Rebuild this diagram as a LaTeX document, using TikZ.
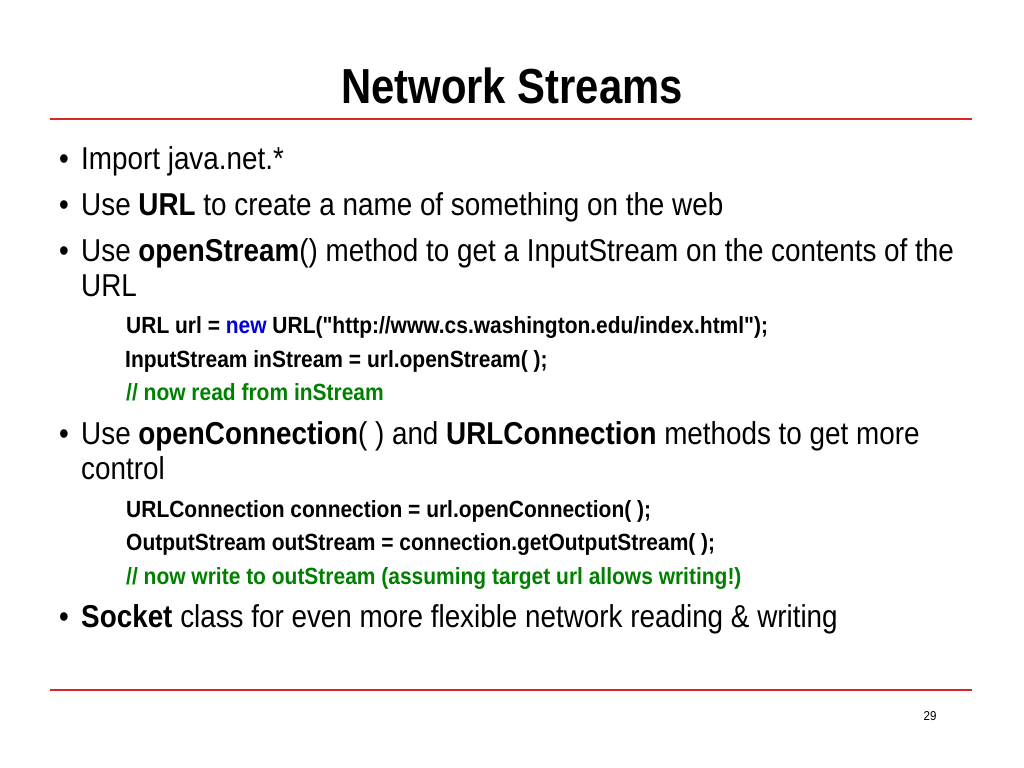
\documentclass[tikz,border=0pt]{standalone}
\usepackage{fontspec}
\setmainfont[FakeStretch=0.88]{Liberation Sans}
\newfontfamily\codefont[FakeStretch=0.895]{Liberation Sans}
\newfontfamily\titlefont[FakeStretch=0.85]{Liberation Sans}
\definecolor{rulered}{rgb}{0.85,0.15,0.15}
\definecolor{codegreen}{rgb}{0.0,0.5,0.0}
\definecolor{codeblue}{rgb}{0.0,0.0,0.85}
\tikzset{
  bullettext/.style={anchor=base west,inner sep=0pt,font=\fontsize{27}{30}\selectfont},
  codetext/.style={anchor=base west,inner sep=0pt,font=\codefont\fontsize{20}{24}\selectfont\bfseries},
}
\begin{document}
\begin{tikzpicture}[x=0.03cm,y=-0.03cm]
        \useasboundingbox (0,0) rectangle (1024,768);
        % Title and rules
        \node[anchor=base,inner sep=0pt,font=\titlefont\fontsize{42}{48}\selectfont\bfseries] (title) at (512,104) {Network Streams};
        \draw[rulered,line width=1pt] (50,119) -- (972,119);
        \draw[rulered,line width=1pt] (50,690) -- (972,690);
        \node[anchor=base,inner sep=0pt,font=\codefont\fontsize{11}{13}\selectfont] (pagenum) at (930,720) {29};

        % Bullets
        \foreach \y in {170,216,262,445,627}
            \node[bullettext] at (59,\y) {\textbullet};
        \node[bullettext] (b1) at (81,170) {Import java.net.*};
        \node[bullettext] (b2) at (81,216) {Use \textbf{URL} to create a name of something on the web};
        \node[bullettext] (b3) at (81,262) {Use \textbf{openStream}() method to get a InputStream on the contents of the};
        \node[bullettext] (b3b) at (81,297) {URL};
        \node[bullettext] (b4) at (81,445) {Use \textbf{openConnection}( ) and \textbf{URLConnection} methods to get more};
        \node[bullettext] (b4b) at (81,480) {control};
        \node[bullettext] (b5) at (81,627) {\textbf{Socket} class for even more flexible network reading \& writing};

        % Code lines
        \node[codetext] (c1) at (126,334) {URL url = \textcolor{codeblue}{new} URL(\char34 http://www.cs.washington.edu/index.html\char34);};
        \node[codetext] (c2) at (125,368) {InputStream inStream = url.openStream( );};
        \node[codetext,codegreen] (c3) at (126,401) {// now read from inStream};
        \node[codetext] (c4) at (126,518) {URLConnection connection = url.openConnection( );};
        \node[codetext] (c5) at (126,551) {OutputStream outStream = connection.getOutputStream( );};
        \node[codetext,codegreen] (c6) at (126,585) {// now write to outStream (assuming target url allows writing!)};
\end{tikzpicture}
\end{document}
